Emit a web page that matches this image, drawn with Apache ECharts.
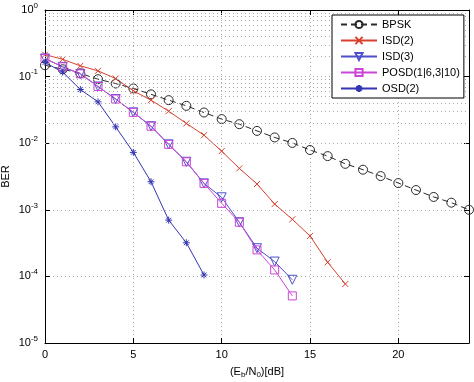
<!DOCTYPE html>
<html><head><meta charset="utf-8">
<script src="https://cdn.jsdelivr.net/npm/echarts@6/dist/echarts.min.js"></script>
<style>html,body{margin:0;padding:0;background:#fff}#c{width:474px;height:382px}</style>
</head><body><div id="c"></div>
<script>
var snr = [0,1,2,3,4,5,6,7,8,9,10,11,12,13,14,15,16,17,18,19,20,21,22,23,24];
var bpsk = [0.148,0.129,0.112,0.0914,0.0787,0.0664,0.0542,0.0443,0.0364,0.0289,0.0230,0.0193,0.0153,0.0122,0.0101,0.0079,0.0064,0.0049,0.0040,0.00321,0.00252,0.00198,0.00156,0.00128,0.0010];
var isd2 = [0.214,0.182,0.145,0.122,0.0935,0.061,0.0443,0.0303,0.0198,0.0132,0.0076,0.00419,0.00244,0.00122,0.00072,0.000405,0.000163,0.000077];
var isd3 = [0.187,0.14,0.11,0.071,0.046,0.029,0.018,0.0096,0.00526,0.00249,0.00154,0.00065,0.000265,0.000167,0.000089];
var posd = [0.187,0.14,0.11,0.071,0.046,0.029,0.018,0.0096,0.00526,0.00249,0.00125,0.00065,0.00025,0.000125,0.000051];
var osd2 = [0.163,0.117,0.064,0.0418,0.0176,0.00728,0.00264,0.0007,0.00032,0.000105];
var names = ['BPSK','ISD(2)','ISD(3)','POSD(1|6,3|10)','OSD(2)'];
var minorGrid = [];
[-5,-4,-3,-2,-1].forEach(function(e){ for (var m=2;m<=9;m++) minorGrid.push(m*Math.pow(10,e)); });

function pairs(arr){ return arr.map(function(v,i){ return [snr[i], v]; }); }
var FONT = 'Liberation Sans';
var XPATH = 'path://M0,0 L10,10 M10,0 L0,10';
var STAR = 'path://M5,0 L5,10 M0,5 L10,5 M1.6,1.6 L8.4,8.4 M8.4,1.6 L1.6,8.4';
function mk(name, data, color, symbol, size, dash, rotate){
  return {
    name: name, type: 'line', data: pairs(data), color: color,
    symbol: symbol, symbolSize: size, symbolRotate: rotate || 0,
    showSymbol: true, showAllSymbol: true,
    lineStyle: {color: color, width: 1, type: dash || 'solid'},
    itemStyle: {color: 'rgba(0,0,0,0)', borderColor: color, borderWidth: 1},
    emphasis: {disabled: true}, z: 3
  };
}
var chart = echarts.init(document.getElementById('c'), null, {renderer: 'canvas'});
chart.setOption({
  animation: false,
  backgroundColor: '#fff',
  textStyle: {fontFamily: FONT},
  grid: {left: 45, right: 5, top: 10, bottom: 39, containLabel: false, outerBoundsMode: 'none'},
  legend: {
    data: names, orient: 'vertical', left: 332, top: 15,
    itemWidth: 36, itemHeight: 9, itemGap: 5,
    padding: [4, 4, 4, 8],
    borderColor: '#000', borderWidth: 1, backgroundColor: '#fff',
    textStyle: {fontFamily: FONT, fontSize: 11, color: '#000'},
    selectedMode: false, z: 10
  },
  xAxis: [{
    type: 'value', min: 0, max: 24, interval: 5,
    name: '(E{sub|b}/N{sub|0})[dB]', nameLocation: 'middle', nameGap: 21, nameMoveOverlap: false,
    nameTextStyle: {fontFamily: FONT, fontSize: 11, color: '#000',
      rich: {sub: {fontSize: 8, padding: [7,0,0,0], fontFamily: FONT, color: '#000'}}},
    axisLine: {show: true, onZero: false, lineStyle: {color: '#000', width: 1}},
    axisTick: {inside: true, length: 5, lineStyle: {color: '#000'}},
    axisLabel: {fontFamily: FONT, fontSize: 11, color: '#000', margin: 6, showMaxLabel: false},
    splitLine: {show: true, lineStyle: {color: '#aaa', type: [1,3], width: 1}}
  },{
    type: 'value', position: 'top', min: 0, max: 24, interval: 5,
    axisLine: {show: true, onZero: false, lineStyle: {color: '#000', width: 1}},
    axisTick: {inside: true, length: 5, lineStyle: {color: '#000'}},
    axisLabel: {show: false}, splitLine: {show: false}
  }],
  yAxis: [{
    type: 'log', logBase: 10, min: 1e-5, max: 1,
    name: 'BER', nameLocation: 'middle', nameGap: 34, nameRotate: 90, nameMoveOverlap: false,
    nameTextStyle: {fontFamily: FONT, fontSize: 11, color: '#000'},
    axisLine: {show: true, onZero: false, lineStyle: {color: '#000', width: 1}},
    axisTick: {inside: true, length: 5, lineStyle: {color: '#000'}},
    axisLabel: {
      fontFamily: FONT, fontSize: 11, color: '#000', margin: 7,
      formatter: function(v){ var e = Math.round(Math.log10(v)); return '10{sup|' + e + '}'; },
      rich: {sup: {fontSize: 8, padding: [0,0,9,0], fontFamily: FONT, color: '#000'}}
    },
    splitLine: {show: true, lineStyle: {color: '#aaa', type: [1,3], width: 1}}
  },{
    type: 'log', logBase: 10, min: 1e-5, max: 1, position: 'right',
    axisLine: {show: true, onZero: false, lineStyle: {color: '#000', width: 1}},
    axisTick: {inside: true, length: 5, lineStyle: {color: '#000'}},
    axisLabel: {show: false}, splitLine: {show: false}
  }],
  series: [
    {
      type: 'line', data: [], z: 1, silent: true,
      markLine: {
        silent: true, symbol: ['none','none'], animation: false,
        label: {show: false},
        lineStyle: {color: '#aaa', type: [1,3], width: 1},
        emphasis: {disabled: true},
        data: minorGrid.map(function(v){ return {yAxis: v}; })
      }
    },
    mk('BPSK', bpsk, '#2a2a2a', 'circle', 9, [6,4]),
    mk('ISD(2)', isd2, '#d8402e', XPATH, 6),
    mk('ISD(3)', isd3, '#4f4fcc', 'triangle', 9, null, 180),
    mk('POSD(1|6,3|10)', posd, '#cc44d8', 'rect', 8),
    mk('OSD(2)', osd2, '#3434b4', STAR, 7)
  ]
});
</script></body></html>
